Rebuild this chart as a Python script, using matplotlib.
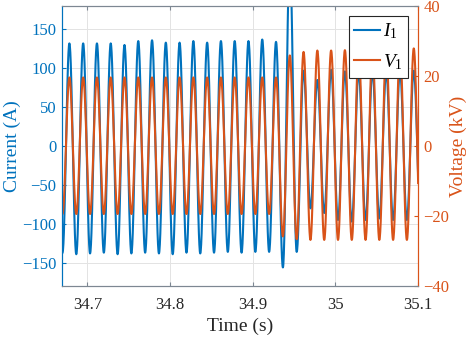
import numpy as np
import matplotlib.pyplot as plt

plt.rcParams['font.family'] = 'Liberation Serif'
plt.rcParams['mathtext.fontset'] = 'custom'
plt.rcParams['mathtext.rm'] = 'Liberation Serif'
plt.rcParams['mathtext.it'] = 'Liberation Serif:italic'

# successive extrema (min, max, min, ...) of each waveform
half_period = 1 / 120
t_first = 34.6698

i1_extrema = [-137, 132, -139, 132, -138, 132, -137, 132, -139, 130, -138, 135,
              -137, 136, -138, 133, -139, 133, -137, 135, -138, 133, -137, 135,
              -136, 135, -137, 135, -136, 137, -136, 134,
              -156, 240, -136,
              97, -80, 85, -86, 98, -95, 96, -97, 95, -95, 96, -93, 95, -95,
              96, -95, 97, -95]

v1_extrema = [-19.4, 19.6, -19.4, 19.6, -19.4, 19.6, -19.4, 19.6, -19.4, 19.6,
              -19.4, 19.6, -19.4, 19.6, -19.4, 19.6, -19.4, 19.6, -19.4, 19.6,
              -19.4, 19.6, -19.4, 19.6, -19.4, 19.6, -19.4, 19.6, -19.4, 19.6,
              -19.4, 19.6,
              -25.8, 25.9, -26.6,
              26.9, -26.8, 27.3, -26.8, 27.3, -26.8, 27.4, -26.8, 27.4, -26.8,
              27.5, -26.8, 27.5, -26.8, 27.6, -26.8, 27.9, -26.8]

x_ticks = [34.7, 34.8, 34.9, 35.0, 35.1]
x_ticklabels = ['34.7', '34.8', '34.9', '35', '35.1']
i_ticks = [-150, -100, -50, 0, 50, 100, 150]
v_ticks = [-40, -20, 0, 20, 40]

blue = '#0072BD'
orange = '#D95319'
axis_gray = '#7d8792'


def waveform(start, step, extrema, n=30):
    # half-cosine shape between consecutive extrema
    ts, ys = [], []
    s = np.linspace(0, 1, n, endpoint=False)
    for k in range(len(extrema) - 1):
        a, b = extrema[k], extrema[k + 1]
        ts.append(start + (k + s) * step)
        ys.append((a + b) / 2 + (a - b) / 2 * np.cos(np.pi * s))
    return np.concatenate(ts), np.concatenate(ys)


t_i, i1 = waveform(t_first, half_period, i1_extrema)
t_v, v1 = waveform(t_first, half_period, v1_extrema)

fig = plt.figure(figsize=(4.74, 3.37), dpi=100)
ax = fig.add_axes([0.131, 0.151, 0.751, 0.831])
ax2 = ax.twinx()

l1, = ax.plot(t_i, i1, color=blue, lw=1.5)
l2, = ax2.plot(t_v, v1, color=orange, lw=1.5)

ax.set_xlim(34.6693, 35.1)
ax.set_ylim(-180, 180)
ax2.set_ylim(-40, 40)

ax.set_xticks(x_ticks)
ax.set_xticklabels(x_ticklabels)
ax.set_yticks(i_ticks)
ax2.set_yticks(v_ticks)

ax.grid(True, color='#e3e3e3', lw=0.7)
ax.set_axisbelow(True)

ax.tick_params(axis='x', direction='in', top=True, length=3, labelsize=12,
               colors=axis_gray, labelcolor='#262626', pad=8)
ax.tick_params(axis='y', direction='in', length=3, labelsize=12,
               colors=blue, labelcolor=blue, pad=4)
ax2.tick_params(axis='y', direction='in', length=3, labelsize=12,
                colors=orange, labelcolor=orange, pad=4)

for a in (ax, ax2):
    a.spines['top'].set_color(axis_gray)
    a.spines['bottom'].set_color(axis_gray)
    a.spines['left'].set_color(blue)
    a.spines['right'].set_color(orange)

ax.set_xlabel('Time (s)', fontsize=14, color='#262626', labelpad=3)
ax.set_ylabel('Current (A)', fontsize=14, color=blue, labelpad=1)
ax2.set_ylabel('Voltage (kV)', fontsize=14, color=orange, labelpad=0)

leg = ax2.legend([l1, l2], [r'$I_{\mathit{1}}$', r'$V_{\mathit{1}}$'],
                 loc='upper right', fontsize=14, fancybox=False,
                 framealpha=1, edgecolor='#262626', handlelength=1.3,
                 borderaxespad=0.5, handletextpad=0.15, labelspacing=0.55,
                 borderpad=0.3)
leg.get_frame().set_linewidth(0.8)

fig.savefig('out.png', dpi=100)
